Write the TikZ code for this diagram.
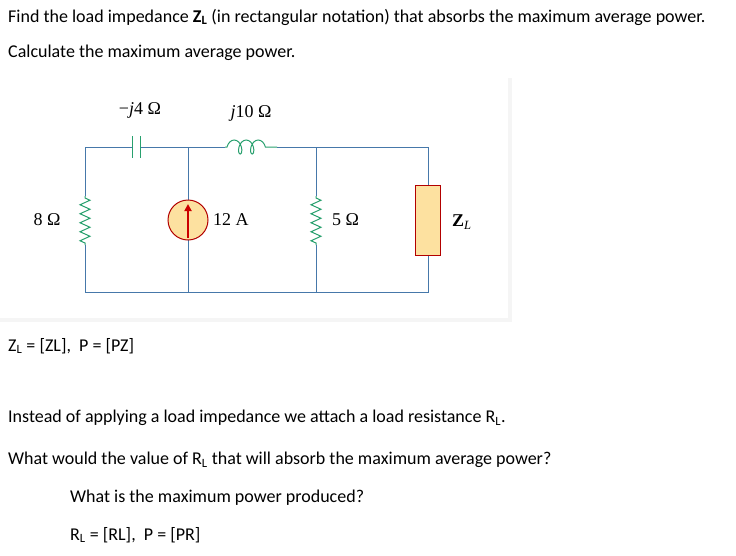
\documentclass[tikz,border=0pt]{standalone}
\usepackage{fontspec}
\setmainfont{Carlito}
\newfontfamily\ckt{Liberation Serif}
\usetikzlibrary{decorations.pathmorphing,arrows.meta}
\definecolor{wirec}{RGB}{70,120,170}
\definecolor{compc}{RGB}{40,160,110}
\definecolor{fillc}{RGB}{253,225,160}
\begin{document}
\begin{tikzpicture}[x=1pt,y=-1pt,
  wire/.style={draw=wirec,line width=1pt},
  comp/.style={draw=compc,line width=1pt},
  txt/.style={anchor=west,inner sep=0pt,font=\fontsize{18}{20}\selectfont},
  lbl/.style={inner sep=0pt,font=\ckt\fontsize{18}{20}\selectfont}]
\useasboundingbox[fill=white] (0,0) rectangle (736,555);
\fill[gray!8] (0,318) rectangle (512,322);
\fill[gray!8] (508,78) rectangle (512,322);
% text
\node[txt] (t1) at (8,17) {Find the load impedance \textbf{Z\textsubscript{L}} (in rectangular notation) that absorbs the maximum average power.};
\node[txt] (t2) at (8,53) {Calculate the maximum average power.};
\node[txt] (t3) at (8,346) {Z\textsubscript{L} = [ZL],\ \ P = [PZ]};
\node[txt] (t4) at (8,418) {Instead of applying a load impedance we attach a load resistance R\textsubscript{L}.};
\node[txt] (t5) at (8,460) {What would the value of R\textsubscript{L} that will absorb the maximum average power?};
\node[txt] (t6) at (70,498) {What is the maximum power produced?};
\node[txt] (t7) at (70,535) {R\textsubscript{L} = [RL],\ \ P = [PR]};
% coordinates
\coordinate (tl) at (85,147); \coordinate (bl) at (85,292);
\coordinate (ts) at (188,147); \coordinate (bs) at (188,292);
\coordinate (tr) at (316,147); \coordinate (br) at (316,292);
\coordinate (tz) at (428,147); \coordinate (bz) at (428,292);
\coordinate (c1) at (132,147); \coordinate (c2) at (140,147);
\coordinate (l1) at (225,147); \coordinate (l2) at (277,147);
\coordinate (r1) at (85,196); \coordinate (r2) at (85,245);
\coordinate (s1) at (316,196); \coordinate (s2) at (316,245);
% wires
\draw[wire] (r1) -- (tl) -- (c1);
\draw[wire] (c2) -- (l1);
\draw[wire] (l2) -- (tz) -- (428,185);
\draw[wire] (428,255) -- (bz) -- (bl) -- (r2);
\draw[wire] (ts) -- (188,201); \draw[wire] (188,239) -- (bs);
\draw[wire] (tr) -- (s1); \draw[wire] (s2) -- (br);
% components
\draw[comp] (132,136) -- (132,158) (140,136) -- (140,158);
\draw[comp,decorate,decoration={zigzag,segment length=9pt,amplitude=5pt,pre length=2pt,post length=2pt}] (r1) -- (r2);
\draw[comp,decorate,decoration={zigzag,segment length=9pt,amplitude=5pt,pre length=2pt,post length=2pt}] (s1) -- (s2);
\draw[comp,decorate,decoration={coil,aspect=0.6,segment length=12pt,amplitude=7pt,pre length=2pt,post length=2pt}] (l1) -- (l2);
\node[circle,draw=red!70!black,fill=fillc,line width=1pt,minimum size=40pt,inner sep=0pt] (src) at (188,220) {};
\draw[red!80!black,line width=1.8pt,-{Triangle[length=7pt,width=7pt]}] (188,238) -- (188,204);
\node[rectangle,draw=red!70!black,fill=fillc,line width=1pt,minimum width=25pt,minimum height=70pt,inner sep=0pt] (zl) at (428,220) {};
% labels
\node[lbl] at (140,110) {\char"2212\textit{j}4 Ω};
\node[lbl] at (251,113) {\textit{j}10 Ω};
\node[lbl] at (47,220) {8 Ω};
\node[lbl,anchor=west] at (213,220) {12 A};
\node[lbl,anchor=west] at (332,220) {5 Ω};
\node[lbl,anchor=west] at (452,222) {\textbf{Z}\textit{\textsubscript{L}}};
\end{tikzpicture}
\end{document}
